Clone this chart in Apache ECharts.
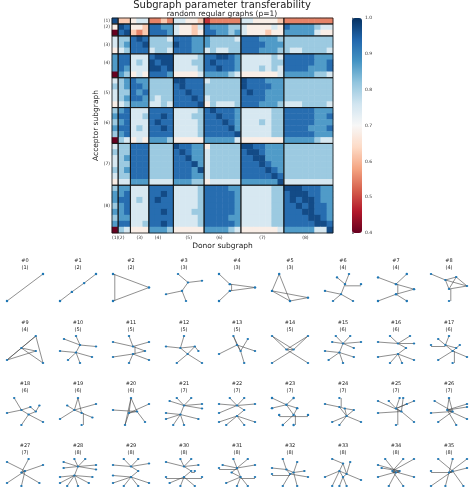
<!DOCTYPE html>
<html>
<head>
<meta charset="utf-8">
<script src="https://cdn.jsdelivr.net/npm/echarts@6/dist/echarts.min.js"></script>
<style>html,body{margin:0;padding:0;background:#fff}#main{width:474px;height:492px}</style>
</head>
<body>
<div id="main"></div>
<script>
// group (subgraph size class) of each of the 36 subgraphs
var groupSizes = [1, 2, 3, 4, 5, 6, 7, 8];
var groupLabels = ['(1)', '(2)', '(3)', '(4)', '(5)', '(6)', '(7)', '(8)'];

// value of each digit level used in the rows below
var levels = [0.40, 0.48, 0.55, 0.62, 0.68, 0.75, 0.81, 0.87, 0.93, 0.97];

// heatmap rows, one digit per donor column
var rows = [
    "9|33|455|2232|55443|122222|5544443|22222222",
    "4|98|443|8877|54435|877766|5444454|87777655",
    "0|89|323|8887|54434|887767|5444344|77777544",
    "5|66|898|6665|88877|766665|8887776|66666666",
    "5|67|889|6666|98877|766666|8888777|66666666",
    "4|56|888|5665|88877|565566|8887776|65566665",
    "7|88|555|8999|55556|889987|5555565|88888777",
    "7|88|565|9899|55566|898887|5555566|88888778",
    "7|87|555|9989|55556|889887|5556565|88887778",
    "0|76|454|8887|44445|777765|4444445|77777665",
    "5|67|877|6666|99888|566666|9888777|66666666",
    "6|67|887|6666|89888|666666|9888877|66666666",
    "5|66|878|6666|88988|666666|8988777|66666666",
    "5|67|887|6566|88898|566666|8888777|66666666",
    "4|56|777|5565|88889|465556|8887776|55566665",
    "6|78|555|8888|55556|898887|5555566|88888777",
    "7|88|556|8898|55566|889887|5555566|88888778",
    "6|78|555|8988|55556|888987|5556566|88888777",
    "7|88|565|8898|55556|888897|5555566|88887778",
    "6|78|555|8888|55556|888889|5555566|88888777",
    "0|65|454|7776|44444|777775|4444444|77777655",
    "5|66|888|6666|98877|466666|9988777|66666666",
    "6|66|888|6666|89877|566666|8998777|66666666",
    "5|67|888|6666|88977|566666|8899777|66666666",
    "5|66|888|6666|88897|566666|8889877|66666666",
    "6|67|888|6666|88879|566666|8888987|66666666",
    "5|66|888|6666|88877|566666|8888898|66666666",
    "4|55|777|5555|77766|455555|7777779|55555555",
    "6|77|555|8888|55556|888877|5555566|99988877",
    "7|78|555|8898|55556|888887|5555566|89998877",
    "7|88|565|8988|55556|888887|5555566|89899877",
    "6|78|555|8888|55556|888887|5555566|88989887",
    "7|78|555|8898|55566|888887|5555566|88899887",
    "6|77|555|8888|55556|888877|5555566|88889987",
    "7|88|556|8898|55556|888887|5555566|88888998",
    "0|65|444|7776|44444|777765|4444445|77777559"
];

// small graph drawings: flat node coords [x,y,...] and edge lists
var graphNodes = [
    [0,8,10,0],
    [0,8,3.3,5.3,6.7,2.7,10,0],
    [0,0,0,8,10,4],
    [5.5,2.5,4,5,3,0,9,2,0,6,5,8],
    [3,3,3,5,0,0,10,4,0,8],
    [2,0,0,5,5,8,10,7],
    [5,3,4,6,3,1,6,0,9,3,0,5,2,8,7,8],
    [5,3,5,6,0,1,8,0,10,4.5,0,8,8,8],
    [4,2,7,1,5,5,10,4,0,0,5,9],
    [4,4,8,0,8,5,0,8,10,9],
    [5,3,4,5.5,1,1,4,0,9,3.5,0,5,2,8,5,9,8,7],
    [5,3.5,5,6,0,2,4,0,9,2,8,5,0,7,4,9,9,8],
    [4,4,6,6,8,3.5,0,3.5,5,0,3,9,10,9,9,5],
    [5,3,6,5,0,6,4,0,8,1,10,5,7,9],
    [4,4.5,6,4.5,0,0,10,0,0,9,10,9],
    [5,2.5,4,5.5,2,2,3,0,7,0,10,2,8,4,0,5,1,8,5,9,8,7],
    [5,2.5,5,6,7,4,0,2,3,0,8,0,9,2.5,0,7,3,9,6,9,9,8],
    [4,3,6,5,7,4,0,3,2,1,5,0,10,7,2,8,6,9,8,3],
    [4,4,6,5.5,6.5,3,8,4.5,2,0,0,5,4,9,10,8,9,2.5],
    [4,4,6,5,5,0,0,7,2,2.5,10,2,9,6.5,6,9],
    [4,5,6,4.5,4.5,0,0,4,9,2,3,9,8,8],
    [5,2.5,4,5.5,1,1,3,0,7,0,10,2,10,3.5,0,5,0,7,2,9,5,9,9,7],
    [5,2.5,5,6,7,4,0,2,3,0,7,0,10,2,0,8,2,9,7,9,10,8,0,5],
    [4,3,6,6,7,4,0,1,0,4,6,1,10,6,3,9,6,9,2,6],
    [4,3,6,6,5.5,3.5,0,2,4,0,2,8,4,9,10,8,8,4],
    [5,3.5,6.5,4.5,0,1,3,1,6,0,7,0,10,1,0,5,5,9,10,8,8,2],
    [4.5,4,6,4.5,1,1,5,0,10,2,10,3,0,5,10,7,2,8,7,9],
    [4,4.5,5,4,0,1,6,0,10,2,0,8,4,9,9,8],
    [5,2.5,4,5.5,1,1,4,0,7,0,10,2,10,3.5,1,3,0,6,0,8,2,9,5,9,8,8,9,6],
    [5,2.5,5,6,7,4,0,2,3,0,7,0,10,1.5,0,5.5,0,8,3,9,7,9,10,8],
    [5,2.5,5,6,7,4,0,1,4,0,7,0,9,2,0,6,1,8,4,9,8,9,10,6,8,4],
    [5,3,6,6,3.5,4.5,1,2,4,0,8,0,10,2,0,3,2,8,5,9,8,9,10,6],
    [4,3.5,6,4.5,5,5,0,3,0,5,3,0,7,1,9,4,10,6,3,9,7,9],
    [4,4,6,5,5,1.5,5,6,2,0,7,1,0,6,2,9,6,9,10,7,4,9],
    [4,4,6,4,5,4.5,0,2,2,0,7,0,10,0,0,6,3,9,7,9,10,6,1,3],
    [5,4.5,6,4,2,0,6,0,10,0,0,4,10,3,0,9,4,9,9,9]
];
var graphEdges = [
    "0-1", "0-1 1-2 2-3", "0-1 1-2 2-0", "0-1 0-2 0-3 1-4 1-5", "0-1 0-2 0-3 1-3 1-4",
    "0-1 0-2 1-3 1-2 2-3", "0-1 0-2 0-3 0-4 1-5 1-6 1-7", "0-1 0-2 0-3 0-4 1-4 1-5 1-6",
    "0-4 0-1 0-2 1-2 1-3 2-3 0-3 2-5", "0-1 0-2 0-3 3-1 3-2 1-4 0-4",
    "0-1 0-2 0-3 0-4 1-5 1-6 1-7 1-8", "0-1 0-2 0-3 0-4 0-5 5-1 1-6 1-7 1-8",
    "0-1 0-2 1-2 0-3 0-4 1-5 1-6 2-7", "0-1 0-2 0-3 3-1 4-1 0-5 1-6",
    "0-1 2-1 3-0 4-1 5-0 2-0 3-1", "0-1 0-2 0-3 0-4 0-5 0-6 1-7 1-8 1-9 1-10",
    "0-2 2-1 0-3 0-4 0-5 0-6 1-7 1-8 1-9 1-10", "0-1 0-2 1-2 0-3 0-4 0-5 1-6 1-7 1-8 2-9",
    "0-1 0-2 2-3 1-3 4-0 5-0 6-1 7-1 8-3", "0-1 2-0 2-1 3-0 4-0 5-0 6-1 7-1",
    "0-1 2-0 2-1 3-1 4-0 5-0 6-1 5-2", "0-1 0-2 0-3 0-4 0-5 0-6 1-7 1-8 1-9 1-10 1-11",
    "0-2 2-1 0-3 0-4 0-5 0-6 1-7 1-8 1-9 1-10 11-0", "0-1 0-2 2-1 0-3 0-4 0-5 1-6 1-7 1-8 1-9",
    "0-1 0-2 2-1 3-0 4-0 5-1 6-1 7-1 8-2 8-1", "0-1 2-1 3-0 4-0 5-1 6-0 7-1 8-0 9-1 10-0",
    "0-1 2-1 3-0 3-1 4-0 5-0 6-1 7-0 8-1 9-0", "0-1 2-1 3-0 4-0 5-1 6-1 7-0",
    "0-1 0-2 0-3 0-4 0-5 0-6 0-7 1-8 1-9 1-10 1-11 1-12 1-13",
    "0-2 2-1 0-3 0-4 0-5 0-6 1-7 1-8 1-9 1-10 1-11",
    "0-2 2-1 0-3 0-4 0-5 0-6 1-7 1-8 1-9 1-10 1-11 12-2",
    "0-2 2-1 0-1 0-3 0-4 0-5 0-6 0-7 1-8 1-9 1-10 1-11",
    "0-1 0-2 1-2 0-3 2-4 0-5 1-6 1-7 2-8 2-9 1-10",
    "0-2 2-1 0-3 1-3 0-1 4-2 5-1 6-0 7-0 8-3 9-1 10-3",
    "0-1 0-2 1-2 3-1 4-2 5-0 6-0 7-1 8-2 9-0 10-0 11-1",
    "0-1 2-1 3-0 4-0 5-1 6-0 7-1 8-0 9-1"
];

var chart = echarts.init(document.getElementById('main'));

var groupOf = [], groupStart = [];
var s = 0;
groupSizes.forEach(function (n, g) {
    groupStart.push(s);
    for (var k = 0; k < n; k++) groupOf.push(g);
    s += n;
});
var N = groupOf.length;

var cats = [];
for (var i = 0; i < N; i++) cats.push(String(i));

var heat = [];
rows.forEach(function (r, y) {
    r.replace(/\|/g, '').split('').forEach(function (c, x) {
        heat.push([x, y, levels[+c]]);
    });
});

var blocks = [];
for (var a = 0; a < groupSizes.length; a++)
    for (var b = 0; b < groupSizes.length; b++)
        blocks.push([groupStart[a], groupStart[b], groupSizes[a], groupSizes[b]]);

var midIdx = {};
groupSizes.forEach(function (n, g) { midIdx[groupStart[g] + Math.floor((n - 1) / 2)] = groupLabels[g]; });

var labelFont = { fontSize: 4.5, color: '#333', fontFamily: 'DejaVu Sans' };

var titles = [{
    text: 'Subgraph parameter transferability',
    subtext: 'random regular graphs (p=1)',
    left: 222, top: 0, padding: 0, textAlign: 'center', itemGap: 0,
    textStyle: { fontSize: 10, fontWeight: 'normal', color: '#222', fontFamily: 'DejaVu Sans' },
    subtextStyle: { fontSize: 7.5, color: '#222', fontFamily: 'DejaVu Sans' }
}];

var titleTop = [257, 319, 380, 442];
var graphTop = [274, 336, 398, 459];
var series = [{
    type: 'heatmap',
    data: heat,
    progressive: 0,
    emphasis: { disabled: true }
}, {
    type: 'custom',
    data: blocks,
    silent: true,
    z: 5,
    renderItem: function (params, api) {
        var p = api.coord([api.value(0), api.value(1)]);
        var sz = api.size([1, 1]);
        return {
            type: 'rect',
            shape: { x: p[0] - sz[0] / 2, y: p[1] - sz[1] / 2, width: sz[0] * api.value(2), height: sz[1] * api.value(3) },
            style: { fill: null, stroke: '#111', lineWidth: 0.8 }
        };
    }
}, {
    type: 'scatter', xAxisIndex: 1, yAxisIndex: 1, data: []
}];

graphNodes.forEach(function (flat, gi) {
    var col = gi % 9, row = Math.floor(gi / 9);
    var cx = 25 + 53 * col;
    titles.push({
        text: '#' + gi + '\n' + groupLabels[groupOf[gi]],
        left: cx, top: titleTop[row], padding: 0, textAlign: 'center',
        textStyle: { fontSize: 5, lineHeight: 7, fontWeight: 'normal', color: '#222', fontFamily: 'DejaVu Sans' }
    });
    var nodes = [];
    for (var k = 0; k < flat.length; k += 2) nodes.push({ name: 'n' + k / 2, x: flat[k], y: flat[k + 1] });
    var links = graphEdges[gi].split(' ').map(function (e) {
        var p = e.split('-');
        return { source: +p[0], target: +p[1] };
    });
    series.push({
        type: 'graph', layout: 'none', silent: true, roam: false,
        left: cx - 18, top: graphTop[row], width: 36, height: 27,
        symbolSize: 2.5,
        itemStyle: { color: '#1f77b4' },
        lineStyle: { color: '#444', width: 0.6, opacity: 1 },
        data: nodes, links: links
    });
});

var option = {
    backgroundColor: '#fff',
    animation: false,
    title: titles,
    grid: [
        { left: 112, top: 18, width: 221, height: 215 },
        { left: 352, top: 18, width: 10, height: 215 }
    ],
    xAxis: [{
        type: 'category', data: cats, gridIndex: 0,
        axisLine: { show: false }, axisTick: { show: false }, splitArea: { show: false },
        axisLabel: Object.assign({ interval: 0, margin: 2, formatter: function (v, i) { return midIdx[i] || ''; } }, labelFont),
        name: 'Donor subgraph', nameLocation: 'middle', nameGap: 9,
        nameTextStyle: { fontSize: 7.5, color: '#222', fontFamily: 'DejaVu Sans' }
    }, {
        type: 'value', gridIndex: 1, show: false, min: 0, max: 1
    }],
    yAxis: [{
        type: 'category', data: cats, gridIndex: 0, inverse: true,
        axisLine: { show: false }, axisTick: { show: false }, splitArea: { show: false },
        axisLabel: Object.assign({ interval: 0, margin: 2, formatter: function (v, i) { return midIdx[i] || ''; } }, labelFont),
        name: 'Acceptor subgraph', nameLocation: 'middle', nameGap: 10,
        nameTextStyle: { fontSize: 7.5, color: '#222', fontFamily: 'DejaVu Sans' }
    }, {
        type: 'value', gridIndex: 1, position: 'right', min: 0.4, max: 1.0, interval: 0.1,
        axisLine: { show: true, lineStyle: { color: '#333', width: 0.5 } },
        axisTick: { show: true, length: 2, lineStyle: { color: '#333', width: 0.5 } },
        splitLine: { show: false },
        axisLabel: Object.assign({ margin: 3, formatter: function (v) { return v.toFixed(1); } }, labelFont)
    }],
    visualMap: {
        type: 'continuous', min: 0.4, max: 1.0, seriesIndex: 0,
        left: 352, top: 18, itemWidth: 10, itemHeight: 215, padding: 0,
        calculable: false, text: null, showLabel: false, hoverLink: false,
        inRange: { color: ['#67001f', '#b2182b', '#d6604d', '#f4a582', '#fddbc7', '#f7f7f7', '#d1e5f0', '#92c5de', '#4393c3', '#2166ac', '#053061'] }
    },
    series: series
};
chart.setOption(option);
</script>
</body>
</html>
